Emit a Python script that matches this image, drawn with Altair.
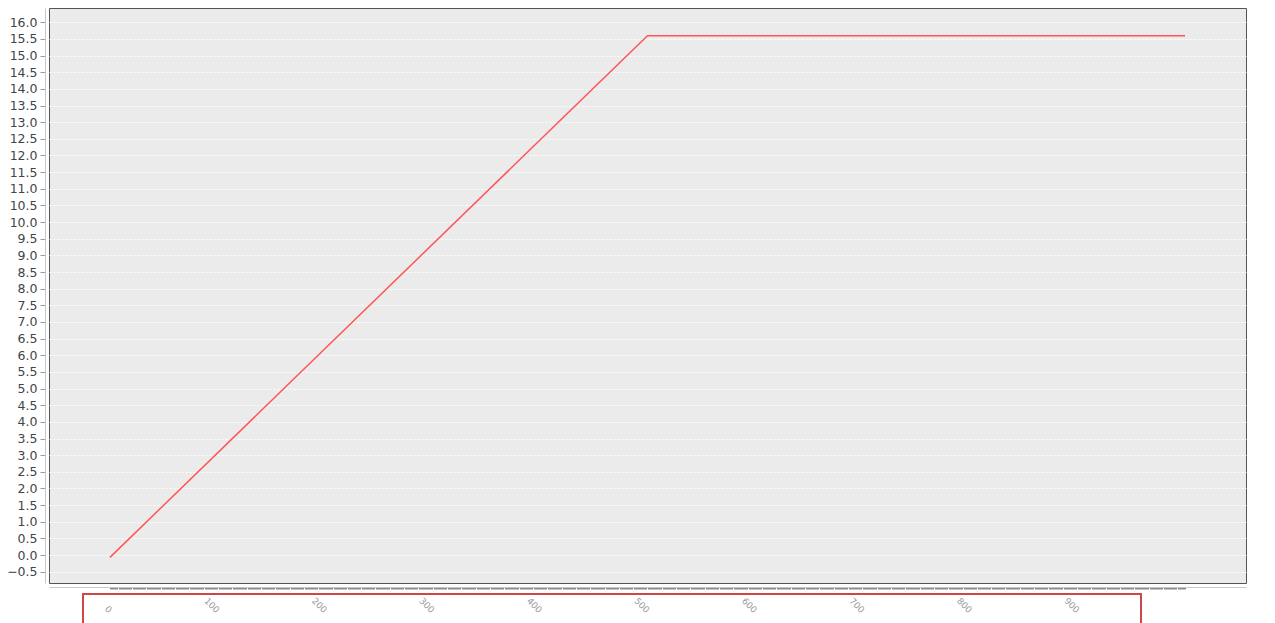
import altair as alt
import pandas as pd

# Data
x_vals = [0, 500, 1000]
y_vals = [-0.07, 15.6, 15.6]
x_label_values = list(range(0, 1001))
y_tick_values = [v / 2 for v in range(-1, 33)]

df = pd.DataFrame({"x": x_vals, "y": y_vals})

x_enc = alt.X(
    "x:Q",
    scale=alt.Scale(domain=[-56.7, 1056.7], nice=False, zero=False),
    axis=alt.Axis(
        title=None,
        values=x_label_values,
        labelExpr="(datum.value % 100 === 0 && datum.value < 1000) ? format(datum.value, 'd') : ''",
        labelOverlap=False,
        labelAngle=45,
        labelAlign="right",
        labelBaseline="middle",
        labelPadding=22,
        labelFontSize=9,
        labelColor="#9a9a9a",
        labelFont="DejaVu Sans",
        tickSize=2,
        tickColor="#8a8a8a",
        tickWidth=1,
        domainColor="#c8c8c8",
        offset=4,
        grid=False,
    ),
)

y_enc = alt.Y(
    "y:Q",
    scale=alt.Scale(domain=[-0.84, 16.43], nice=False, zero=False),
    axis=alt.Axis(
        title=None,
        values=y_tick_values,
        format=".1f",
        labelFont="DejaVu Sans",
        labelFontSize=12.5,
        labelColor="#444444",
        labelPadding=3,
        tickSize=5,
        tickColor="#999999",
        domainColor="#c8c8c8",
        offset=4,
        grid=True,
        gridColor="#ffffff",
        gridDash=[2, 2],
        gridWidth=1,
        labelOverlap=False,
    ),
)

line = alt.Chart(df).mark_line(color="#ff5555", strokeWidth=1.5).encode(x=x_enc, y=y_enc)

box = alt.Chart(df).mark_rect(
    filled=False, stroke="#d04545", strokeWidth=2, clip=False
).encode(
    x=alt.value(34), x2=alt.value(1092), y=alt.value(586), y2=alt.value(640)
).transform_filter("datum.x == 0")

chart = alt.layer(line, box).properties(
    width=1197,
    height=575,
    autosize=alt.AutoSizeParams(type="none"),
    padding={"left": 41, "top": 0, "right": 20, "bottom": 40},
).configure(
    background="#ffffff"
).configure_view(
    fill="#ebebeb", stroke="#555555", strokeWidth=1
)

chart.save("out.html", embed_options={"renderer": "svg", "actions": False})
